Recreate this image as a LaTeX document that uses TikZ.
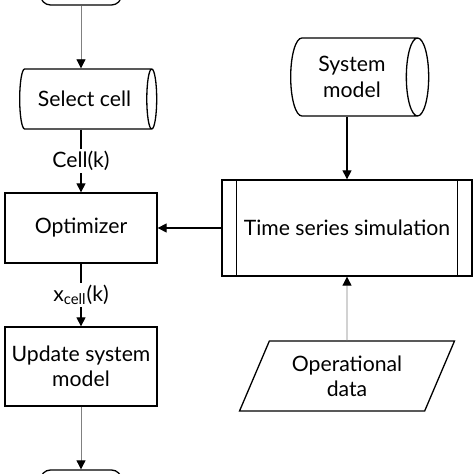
\documentclass[tikz,border=0pt]{standalone}
\usepackage{fontspec}
\setmainfont{Lato}
\usetikzlibrary{shapes.geometric,arrows.meta}
\begin{document}
\begin{tikzpicture}[x=0.5pt,y=-0.5pt,
    font=\fontsize{10.6}{12.6}\selectfont,
    box/.style={draw, line width=0.65pt, align=center, inner sep=1pt},
    store/.style={box, cylinder, shape aspect=0.5},
    arr/.style={line width=0.6pt, -{Triangle[length=4.5pt,width=4.5pt]}},
    faint/.style={draw=gray, line width=0.4pt, -{Triangle[length=4.5pt,width=4.5pt,color=black]}},
    lbl/.style={midway, fill=white, inner sep=1pt}]

    \useasboundingbox (0,0) rectangle (474,474);
    \clip (0,0) rectangle (474,474);

    % left column
    \node[box, rounded corners=5pt, minimum width=40.5pt, minimum height=20pt] (start) at (81,-15) {};
    \node[store, minimum width=30pt, minimum height=68.5pt] (select) at (84.5,99) {Select cell};
    \node[box, minimum width=76pt, minimum height=35pt] (opt) at (81,228) {Optimizer};
    \node[box, minimum width=76pt, minimum height=39.5pt] (upd) at (81,366.5) {Update system\\model};
    \node[box, rounded corners=5pt, minimum width=40.5pt, minimum height=20pt] (stop) at (81,490) {};

    % right column
    \node[store, minimum width=39pt, minimum height=69pt] (sm) at (352,77) {System\\model};
    \node[box, minimum width=125pt, minimum height=48pt] (sim) at (347,228) {Time series simulation};
    \draw[line width=0.65pt] ([xshift=7.5pt]sim.north west) -- ([xshift=7.5pt]sim.south west);
    \draw[line width=0.65pt] ([xshift=-7.5pt]sim.north east) -- ([xshift=-7.5pt]sim.south east);
    \node[box, trapezium, trapezium left angle=64, trapezium right angle=116, trapezium stretches=true,
          minimum width=108pt, minimum height=35pt] (data) at (347,376) {Operational\\data};

    % connectors
    \draw[faint] (start) -- (start |- select.north);
    \draw[arr] (select.south -| opt.north) -- (opt) node[lbl] {Cell(k)};
    \draw[arr] (opt) -- (upd) node[lbl] {x\textsubscript{cell}(k)};
    \draw[faint] (upd) -- (stop);
    \draw[arr] (sm.south -| sim.north) -- (sim);
    \draw[arr] (sim) -- (opt);
    \draw[faint] (data) -- (sim);

\end{tikzpicture}
\end{document}
